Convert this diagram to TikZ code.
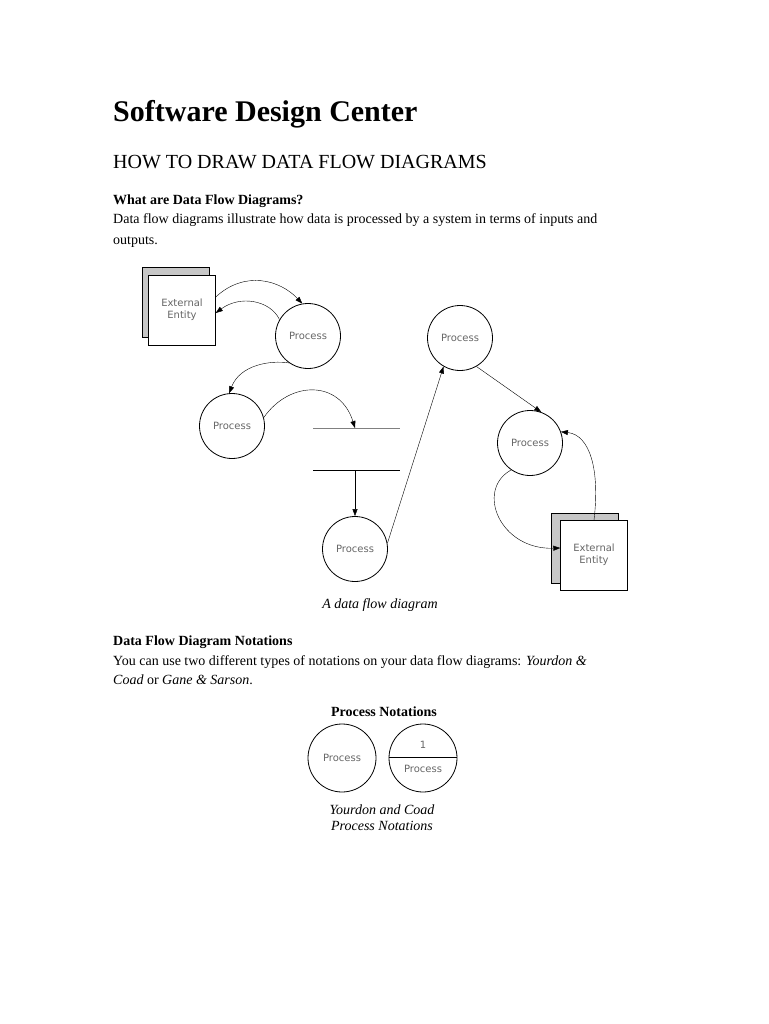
\documentclass[tikz,border=0pt]{standalone}
\usepackage{fontspec}
\setmainfont{Liberation Serif}
\newfontfamily\dsans{DejaVu Sans}
\usetikzlibrary{arrows.meta}
\begin{document}
\begin{tikzpicture}[x=1pt,y=-1pt,
  proc/.style={circle,draw,thick,minimum size=65pt,inner sep=0pt,font=\dsans\fontsize{10}{12}\selectfont,text=black!60},
  ent/.style={draw,fill=white,minimum width=67pt,minimum height=70pt,align=center,font=\dsans\fontsize{10}{12}\selectfont,text=black!60},
  shad/.style={draw,fill=black!22,minimum width=67pt,minimum height=70pt},
  fl/.style={-{Triangle[length=7pt,width=5pt]},thin},
  txt/.style={anchor=base west,font=\fontsize{14}{16}\selectfont,inner sep=0pt}]
\useasboundingbox (0,0) rectangle (768,1024);
\node[txt,font=\bfseries\fontsize{30}{34}\selectfont] (t1) at (113,122) {Software Design Center};
\node[txt,font=\fontsize{20}{24}\selectfont] (t2) at (113,169) {HOW TO DRAW DATA FLOW DIAGRAMS};
\node[txt,font=\bfseries\fontsize{14}{16}\selectfont] (t3) at (113,205) {What are Data Flow Diagrams?};
\node[txt] (t4) at (113,224) {Data flow diagrams illustrate how data is processed by a system in terms of inputs and};
\node[txt] (t5) at (113,244) {outputs.};
% entities
\node[shad] (s1) at (176,302) {};
\node[ent] (e1) at (182,310) {External\\Entity};
\node[shad] (s2) at (585,548) {};
\node[ent] (e2) at (594,555) {External\\Entity};
% processes
\node[proc] (p1) at (308,336) {Process};
\node[proc] (p2) at (232,426) {Process};
\node[proc] (p3) at (355,549) {Process};
\node[proc] (p4) at (460,338) {Process};
\node[proc] (p5) at (530,443) {Process};
% data store
\coordinate (d1) at (313,428); \coordinate (d2) at (400,428);
\coordinate (d3) at (313,470); \coordinate (d4) at (400,470);
\draw[black!50] (d1) -- (d2);
\draw[thick] (d3) -- (d4);
\coordinate (dt) at (355,428); \coordinate (db) at (355,470);
% flows
\draw[fl] (e1.east |- 0,297) .. controls (245,270) and (280,280) .. (p1.100);
\draw[fl] (p1.150) .. controls (270,300) and (240,295) .. (e1.east |- 0,313);
\draw[fl] (p1.235) .. controls (270,360) and (240,365) .. (p2.95);
\draw[fl] (p2.15) .. controls (290,380) and (340,380) .. (dt);
\draw[fl] (db) -- (p3);
\draw[fl] (p3.10) -- (p4.240);
\draw[fl] (p4.300) -- (p5.70);
\draw[fl] (p5.235) .. controls (475,490) and (500,550) .. (e2.west |- 0,548);
\draw[fl] (e2.north |- 0,520) .. controls (600,470) and (590,435) .. (p5.20);
\node[font=\itshape\fontsize{14}{16}\selectfont] (c1) at (380,605) {A data flow diagram};
\node[txt,font=\bfseries\fontsize{14}{16}\selectfont] (t6) at (113,645) {Data Flow Diagram Notations};
\node[txt] (t7) at (113,665) {You can use two different types of notations on your data flow diagrams: \textit{Yourdon \&}};
\node[txt] (t8) at (113,684) {\textit{Coad} or \textit{Gane \& Sarson}.};
\node[font=\bfseries\fontsize{14}{16}\selectfont] (t9) at (384,712) {Process Notations};
\node[proc,minimum size=68pt] (n1) at (342,758) {Process};
\node[circle,draw,thick,minimum size=68pt,inner sep=0pt] (n2) at (423,758) {};
\draw[thick] (n2.west |- 0,757) -- (n2.east |- 0,757);
\node[font=\dsans\fontsize{10}{12}\selectfont,text=black!60] (n2a) at (423,745) {1};
\node[font=\dsans\fontsize{10}{12}\selectfont,text=black!60] (n2b) at (423,769) {Process};
\node[font=\itshape\fontsize{14}{16}\selectfont,align=center] (c2) at (382,818) {Yourdon and Coad\\Process Notations};
\end{tikzpicture}
\end{document}
